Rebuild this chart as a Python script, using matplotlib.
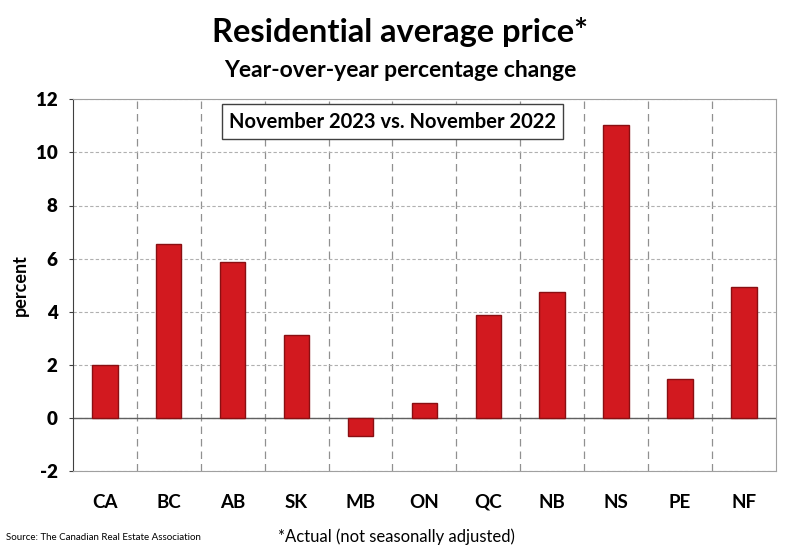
import numpy as np
import matplotlib.pyplot as plt
from matplotlib.ticker import MultipleLocator

plt.rcParams['font.family'] = ['Lato', 'DejaVu Sans']
plt.rcParams['axes.unicode_minus'] = False

regions = ['CA', 'BC', 'AB', 'SK', 'MB', 'ON', 'QC', 'NB', 'NS', 'PE', 'NF']
pct_change = [2.0, 6.55, 5.88, 3.11, -0.66, 0.58, 3.87, 4.76, 11.04, 1.48, 4.92]

fig = plt.figure(figsize=(8, 5.48), dpi=100)
ax = fig.add_axes([0.091, 0.14, 0.879, 0.679])

x = np.arange(len(regions))
ax.bar(x, pct_change, width=0.4, color='#D2191F', edgecolor='#8A0F12',
       linewidth=1.0, zorder=3)

ax.set_xlim(-0.5, len(regions) - 0.5)
ax.set_ylim(-2, 12)
ax.yaxis.set_major_locator(MultipleLocator(2))

# horizontal grid
ax.grid(axis='y', color='#B0B0B0', linestyle=(0, (3, 2)), linewidth=0.8, zorder=0)
# vertical separators between categories
for b in np.arange(0.5, len(regions) - 0.5, 1):
    ax.axvline(b, color='#909090', linestyle=(0, (6, 4)), linewidth=0.9, zorder=1)
ax.axhline(0, color='#606060', linewidth=1.0, zorder=2)

for s in ['top', 'right', 'bottom']:
    ax.spines[s].set_color('#A0A0A0')
ax.spines['left'].set_color('#404040')

ax.set_xticks(x)
ax.set_xticklabels(regions, fontsize=13.5, fontweight='bold')
ax.tick_params(axis='x', length=0, pad=16)
ax.tick_params(axis='y', length=3, labelsize=13.5, direction='out', pad=8,
               color='#404040')
for lbl in ax.get_yticklabels():
    lbl.set_fontweight('heavy')
ax.set_ylabel('percent', fontsize=13, fontweight='bold', labelpad=5)

ax.text(0.455, 0.94, 'November 2023 vs. November 2022', transform=ax.transAxes,
        ha='center', va='center', fontsize=14.5, fontweight='bold', zorder=5,
        bbox=dict(boxstyle='square,pad=0.35', facecolor='white', edgecolor='#404040', linewidth=1))

fig.text(0.5, 0.942, 'Residential average price*', ha='center', va='center',
         fontsize=23.5, fontweight='bold')
fig.text(0.5, 0.872, 'Year-over-year percentage change', ha='center', va='center',
         fontsize=16.5, fontweight='bold')
fig.text(0.008, 0.02, 'Source: The Canadian Real Estate Association', ha='left',
         va='center', fontsize=7)
fig.text(0.495, 0.02, '*Actual (not seasonally adjusted)', ha='center',
         va='center', fontsize=12)

fig.savefig('out.png', dpi=100)
